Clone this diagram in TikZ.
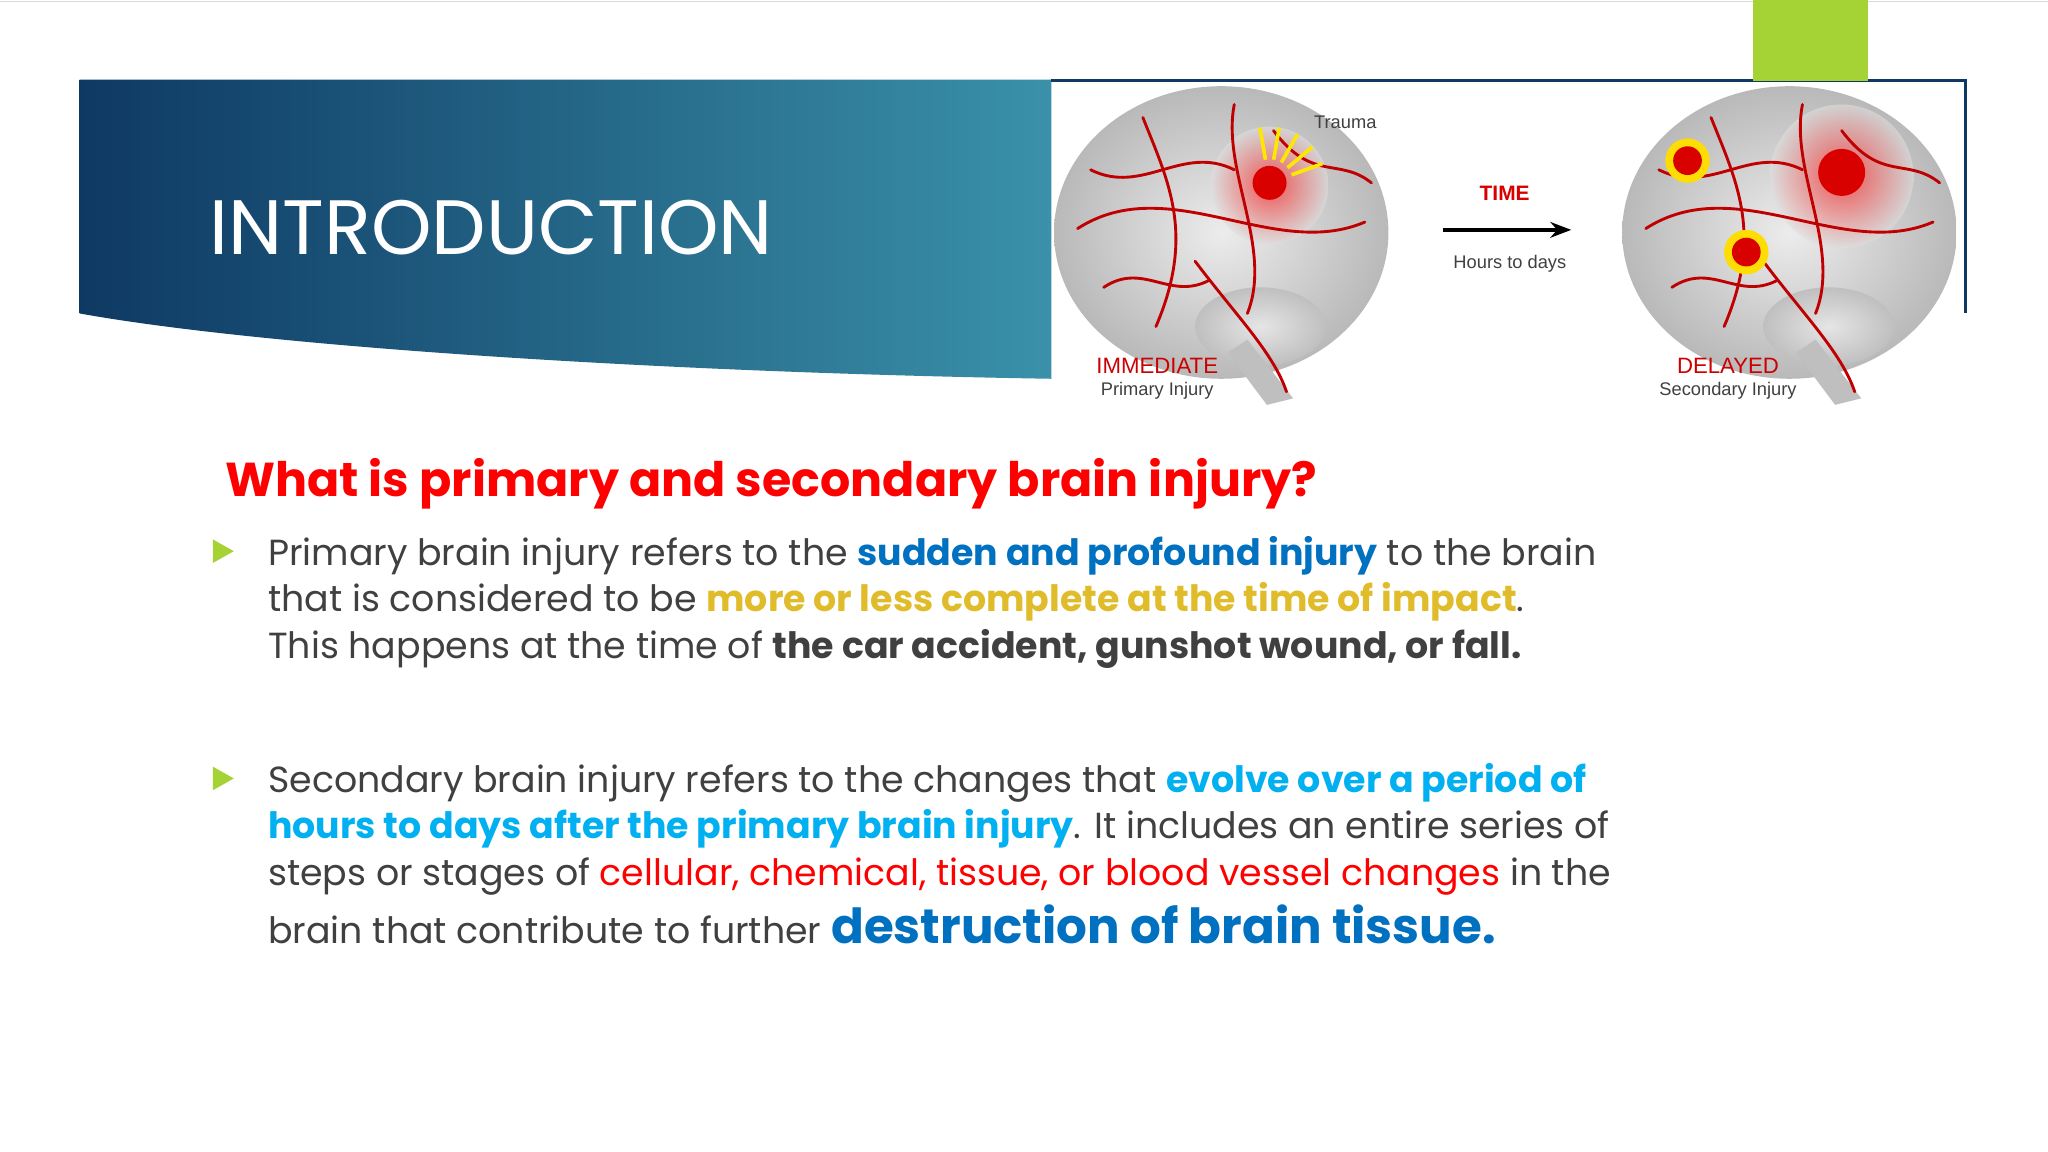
\documentclass[tikz,border=0pt]{standalone}
\usepackage{fontspec}
\setmainfont{Poppins}
\newfontfamily\lib{Liberation Sans}
\usetikzlibrary{shapes.geometric,arrows.meta,shadings}
\definecolor{txt}{HTML}{404040}
\definecolor{bblue}{HTML}{0070C0}
\definecolor{cyanb}{HTML}{00B0F0}
\definecolor{gold}{HTML}{E0BC2A}
\definecolor{grn}{HTML}{A5D234}
\definecolor{navy}{HTML}{0E3963}
\definecolor{teal}{HTML}{3A91A9}
\begin{document}
\begin{tikzpicture}[x=0.5pt,y=-0.5pt,
  line/.style={anchor=base west,inner sep=0pt,font=\fontsize{13.9}{17}\selectfont,text=txt},
  lab/.style={inner sep=0pt,font=\lib\fontsize{7}{8}\selectfont,text=txt},
  bul/.style={fill=grn,draw=none},
  vessel/.style={draw=red!75!black,line width=1.1pt,line cap=round}]
\useasboundingbox (0,0) rectangle (1568,882);
\fill[white] (0,0) rectangle (1568,882);
\draw[gray!30] (0,1) -- (1568,1);
% header band
\shade[left color=navy,right color=teal] (61,61) -- (805,61) -- (805,290) .. controls (500,285) and (200,265) .. (61,240) -- cycle;
\draw[navy,line width=1.2pt] (805,61.5) -- (1505,61.5) -- (1505,240);
\fill[grn] (1342,0) rectangle (1430,62);
\node[anchor=west,inner sep=0pt,text=white,font=\fontsize{29.5}{34}\selectfont] (title) at (160,174) {INTRODUCTION};
% brains
\foreach \cx/\nm in {935/b1,1370/b2}{
  \shade[inner color=gray!15,outer color=gray!55] (\cx,178) ellipse (128 and 112);
  \shade[inner color=gray!20,outer color=gray!50] (\cx+30,250) ellipse (50 and 30);
  \fill[gray!50] (\cx+20,260) -- (\cx+55,305) -- (\cx+35,310) -- (\cx+5,270) -- cycle;
}
\shade[inner color=red,outer color=gray!25,opacity=0.6] (972,142) circle (45);
\shade[inner color=red,outer color=gray!25,opacity=0.6] (1410,135) circle (55);
\foreach \cx/\nm in {935/b1,1370/b2}{
  \draw[vessel] (\cx-110,175) .. controls (\cx-40,130) and (\cx+40,200) .. (\cx+110,170);
  \draw[vessel] (\cx-60,90) .. controls (\cx-40,140) and (\cx-20,180) .. (\cx-50,250);
  \draw[vessel] (\cx+10,80) .. controls (\cx,130) and (\cx+40,190) .. (\cx+20,240);
  \draw[vessel] (\cx-100,130) .. controls (\cx-60,150) and (\cx-30,110) .. (\cx+10,130);
  \draw[vessel] (\cx+40,100) .. controls (\cx+70,140) and (\cx+90,120) .. (\cx+115,140);
  \draw[vessel] (\cx-20,200) .. controls (\cx+10,240) and (\cx+40,270) .. (\cx+50,300);
  \draw[vessel] (\cx-90,220) .. controls (\cx-60,200) and (\cx-40,230) .. (\cx-10,215);
}
\fill[red!85!black] (972,140) circle (13);
\foreach \a in {-20,-40,-60,-80,-100}{\draw[yellow!90!orange,line width=1.4pt] (972,140) ++(\a:18) -- ++(\a:25);}
\fill[red!85!black] (1410,132) circle (18);
\foreach \x/\y in {1292/123,1337/193}{
  \fill[yellow!80!orange] (\x,\y) circle (17);
  \fill[red!85!black] (\x,\y) circle (11);}
\node[lab] (trauma) at (1030,94) {Trauma};
\node[lab,text=red!85!black,font=\lib\bfseries\fontsize{8}{9}\selectfont] (time) at (1152,148) {TIME};
\coordinate (a1) at (1105,176); \coordinate (a2) at (1203,176);
\draw[-{Stealth[length=8pt]},line width=1.5pt,black] (a1) -- (a2);
\node[lab] (hours) at (1156,202) {Hours to days};
\node[lab,text=red!80!black,font=\lib\fontsize{8.5}{9}\selectfont] (imm) at (886,280) {IMMEDIATE};
\node[lab] (pri) at (886,299) {Primary Injury};
\node[lab,text=red!80!black,font=\lib\fontsize{8.5}{9}\selectfont] (del) at (1323,280) {DELAYED};
\node[lab] (sec) at (1323,299) {Secondary Injury};
% heading
\node[anchor=base west,inner sep=0pt,text=red,font=\bfseries\fontsize{18.2}{22}\selectfont] (head) at (172,380) {What is primary and secondary brain injury?};
% bullets
\fill[bul] (163,413) -- (179,422) -- (163,431) -- cycle;
\fill[bul] (163,587) -- (179,596) -- (163,605) -- cycle;
\node[line] (l1) at (205,433) {Primary brain injury refers to the \textcolor{bblue}{\bfseries sudden and profound injury} to the brain};
\node[line] (l2) at (205,468) {that is considered to be \textcolor{gold}{\bfseries more or less complete at the time of impact}.};
\node[line] (l3) at (205,504) {This happens at the time of \textbf{the car accident, gunshot wound, or fall.}};
\node[line] (m1) at (205,607) {Secondary brain injury refers to the changes that \textcolor{cyanb}{\bfseries evolve over a period of}};
\node[line] (m2) at (205,642) {\textcolor{cyanb}{\bfseries hours to days after the primary brain injury}. It includes an entire series of};
\node[line] (m3) at (205,678) {steps or stages of \textcolor{red}{cellular, chemical, tissue, or blood vessel changes} in the};
\node[line] (m4) at (205,722) {brain that contribute to further \textcolor{bblue}{\bfseries\fontsize{18.5}{24}\selectfont destruction of brain tissue.}};
\end{tikzpicture}
\end{document}
